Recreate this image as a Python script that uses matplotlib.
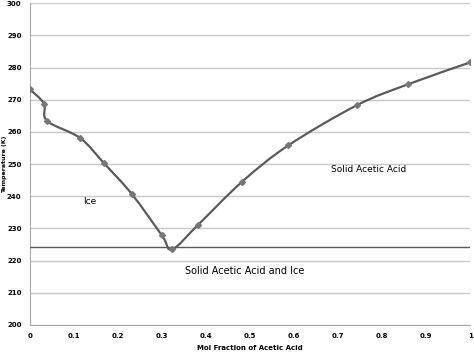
import numpy as np
import matplotlib
matplotlib.use('Agg')
import matplotlib.pyplot as plt
from matplotlib.path import Path
from matplotlib.patches import PathPatch

# data
mol_frac = [0.0, 0.032, 0.039, 0.114, 0.168, 0.232, 0.300, 0.323,
            0.382, 0.482, 0.587, 0.743, 0.859, 1.0]
temp_k = [273.2, 268.8, 263.4, 258.1, 250.3, 240.6, 227.8, 223.5,
          231.1, 244.5, 255.8, 268.3, 274.8, 281.6]
eutectic_t = 224.1

x_ticks = [0, 0.1, 0.2, 0.3, 0.4, 0.5, 0.6, 0.7, 0.8, 0.9, 1]
x_tick_labels = ['0', '0.1', '0.2', '0.3', '0.4', '0.5', '0.6', '0.7', '0.8', '0.9', '1']
y_ticks = [200, 210, 220, 230, 240, 250, 260, 270, 280, 290, 300]

LINE = '#5a5a5a'
GRID = '#c8c8c8'


def smooth_path(xs, ys, yscale=100.0, tension=6.0):
    """Excel-like smoothed line: cubic bezier segments through the points."""
    p = np.column_stack([xs, np.asarray(ys) / yscale])
    verts = [p[0]]
    codes = [Path.MOVETO]
    n = len(p)
    for i in range(n - 1):
        p0 = p[i - 1] if i > 0 else p[i]
        p1, p2 = p[i], p[i + 1]
        p3 = p[i + 2] if i + 2 < n else p[i + 1]
        c1 = p1 + (p2 - p0) / tension
        c2 = p2 - (p3 - p1) / tension
        verts += [c1, c2, p2]
        codes += [Path.CURVE4] * 3
    verts = np.array(verts)
    verts[:, 1] *= yscale
    return Path(verts, codes)


fig = plt.figure(figsize=(4.74, 3.52), dpi=100)
ax = fig.add_axes([0.063, 0.077, 0.929, 0.914])

ax.set_xlim(0, 1)
ax.set_ylim(200, 300)
ax.set_xticks(x_ticks)
ax.set_xticklabels(x_tick_labels)
ax.set_yticks(y_ticks)
ax.yaxis.grid(True, color=GRID, linewidth=1.0)
ax.set_axisbelow(True)
for side in ['top', 'right']:
    ax.spines[side].set_visible(False)
for side in ['left', 'bottom']:
    ax.spines[side].set_color('#a8a8a8')
ax.tick_params(length=0, labelsize=5, pad=6)
for lab in ax.get_xticklabels() + ax.get_yticklabels():
    lab.set_fontweight('bold')

ax.add_patch(PathPatch(smooth_path(mol_frac, temp_k), facecolor='none',
                       edgecolor=LINE, linewidth=1.6, zorder=3))
ax.plot(mol_frac, temp_k, linestyle='none', marker='D', markersize=3,
        color='#777777', zorder=4)
ax.axhline(eutectic_t, color=LINE, linewidth=1.0, zorder=3)

ax.text(0.136, 238.5, 'Ice', fontsize=6.5, ha='center', va='center')
ax.text(0.77, 248.2, 'Solid Acetic Acid', fontsize=6.5, ha='center', va='center')
ax.text(0.488, 216.8, 'Solid Acetic Acid and Ice', fontsize=7, ha='center', va='center')

ax.set_xlabel('Mol Fraction of Acetic Acid', fontsize=5, fontweight='bold', labelpad=4)
ax.set_ylabel('Temperature (K)', fontsize=4.5, fontweight='bold', labelpad=1)
ax.yaxis.set_label_coords(-0.052, 0.5)

fig.savefig('out.png', dpi=100)
